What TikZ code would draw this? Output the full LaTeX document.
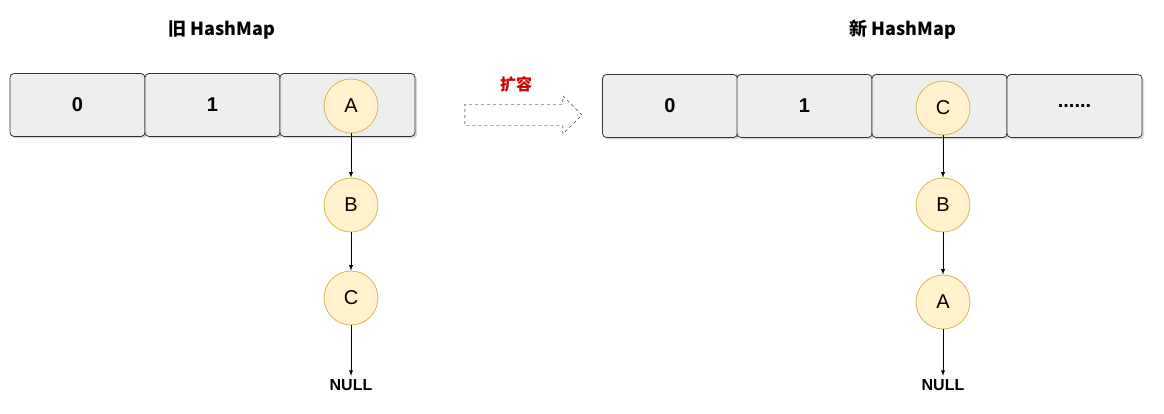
\documentclass[tikz,border=0pt]{standalone}
\usepackage{fontspec}
\setmainfont{Liberation Sans}
\newfontfamily\cjk{Noto Sans CJK SC}
\usetikzlibrary{shapes.arrows,shadows}
\definecolor{cellgray}{HTML}{EEEEEE}
\definecolor{nodefill}{HTML}{FFF2CC}
\definecolor{nodeline}{HTML}{D6B656}
\tikzset{
 cell/.style={draw=black!80,fill=cellgray,rounded corners=4pt,minimum width=135pt,minimum height=63pt,line width=0.8pt,drop shadow={opacity=0.3,shadow xshift=2pt,shadow yshift=-2pt},font=\fontsize{20}{24}\selectfont\bfseries},
 ent/.style={circle,draw=nodeline,fill=nodefill,minimum size=54pt,line width=0.8pt,font=\fontsize{20}{24}\selectfont},
 lnk/.style={-latex,line width=0.9pt},
 ttl/.style={font=\cjk\bfseries\fontsize{18}{22}\selectfont},
 nul/.style={font=\bfseries\fontsize{16}{20}\selectfont},
}
\begin{document}
\begin{tikzpicture}[x=1pt,y=-1pt]
\useasboundingbox (0,0) rectangle (1164,414);
\node[ttl] (t1) at (222,30) {旧 HashMap};
\node[ttl] (t2) at (903,30) {新 HashMap};
\node[cell] (o0) at (77.5,105) {0};
\node[cell] (o1) at (212.5,105) {1};
\node[cell] (o2) at (347.5,105) {};
\node[cell] (n0) at (670,106) {0};
\node[cell] (n1) at (804.5,106) {1};
\node[cell] (n2) at (939.5,106) {};
\node[cell] (n3) at (1074.5,106) {......};
\node[ent] (oA) at (351,106) {A};
\node[ent] (oB) at (351,205) {B};
\node[ent] (oC) at (351,298) {C};
\node[nul] (oN) at (351,385) {NULL};
\node[ent] (nC) at (943,108) {C};
\node[ent] (nB) at (943,205) {B};
\node[ent] (nA) at (943,302) {A};
\node[nul] (nN) at (943,385) {NULL};
\draw[lnk] (oA) -- (oB); \draw[lnk] (oB) -- (oC); \draw[lnk] (oC) -- (oN);
\draw[lnk] (nC) -- (nB); \draw[lnk] (nB) -- (nA); \draw[lnk] (nA) -- (nN);
\node[single arrow,draw,dashed,minimum width=38pt,single arrow head extend=4pt,minimum height=117pt,inner sep=5pt] (arr) at (518,115) {};
\node[font=\cjk\bfseries\fontsize{16}{20}\selectfont,text=red!80!black] (lab) at (516,84) {扩容};
\end{tikzpicture}
\end{document}
